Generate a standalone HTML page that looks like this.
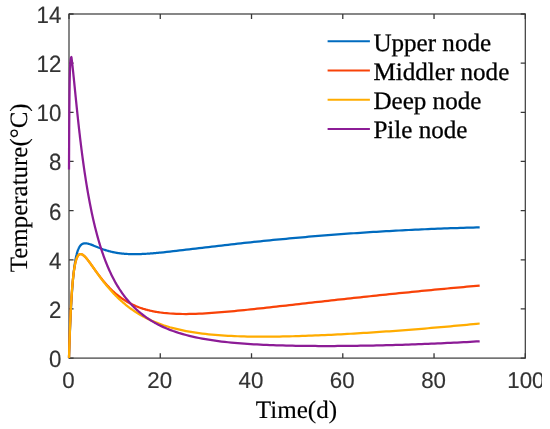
<!DOCTYPE html>
<html><head><meta charset="utf-8"><title>chart</title>
<style>html,body{margin:0;padding:0;background:#fff}svg{display:block}</style></head>
<body>
<svg width="550" height="429" viewBox="0 0 550 429" text-rendering="geometricPrecision">
<rect width="550" height="429" fill="#fff"/>
<rect x="69.0" y="14.0" width="456.30" height="344.10" fill="none" stroke="#383838" stroke-width="1.2"/>
<path d="M69.00,358.1 v-4.9 M69.00,14.0 v4.9 M160.26,358.1 v-4.9 M160.26,14.0 v4.9 M251.52,358.1 v-4.9 M251.52,14.0 v4.9 M342.78,358.1 v-4.9 M342.78,14.0 v4.9 M434.04,358.1 v-4.9 M434.04,14.0 v4.9 M525.30,358.1 v-4.9 M525.30,14.0 v4.9 M69.0,358.10 h4.6 M525.3,358.10 h-4.6 M69.0,308.94 h4.6 M525.3,308.94 h-4.6 M69.0,259.79 h4.6 M525.3,259.79 h-4.6 M69.0,210.63 h4.6 M525.3,210.63 h-4.6 M69.0,161.47 h4.6 M525.3,161.47 h-4.6 M69.0,112.31 h4.6 M525.3,112.31 h-4.6 M69.0,63.16 h4.6 M525.3,63.16 h-4.6 M69.0,14.00 h4.6 M525.3,14.00 h-4.6" stroke="#383838" stroke-width="1.3" fill="none"/>
<path d="M69.00,357.90 L69.09,354.98 L69.18,352.13 L69.28,349.35 L69.37,346.64 L69.46,343.99 L69.55,341.41 L69.64,338.89 L69.73,336.44 L69.83,334.04 L69.92,331.71 L70.01,329.43 L70.10,327.21 L70.19,325.04 L70.29,322.93 L70.38,320.86 L70.47,318.85 L70.56,316.89 L70.65,314.98 L70.75,313.11 L70.84,311.29 L70.93,309.52 L71.02,307.78 L71.11,306.09 L71.20,304.45 L71.30,302.84 L71.39,301.27 L71.48,299.74 L71.57,298.25 L71.66,296.80 L71.76,295.38 L71.85,294.00 L71.94,292.65 L72.03,291.33 L72.12,290.05 L72.22,288.80 L72.31,287.57 L72.40,286.38 L72.49,285.22 L72.58,284.09 L72.67,282.99 L72.77,281.91 L72.86,280.86 L72.95,279.84 L73.04,278.84 L73.13,277.86 L73.23,276.91 L73.32,275.99 L73.41,275.08 L73.50,274.20 L73.59,273.34 L73.69,272.51 L73.78,271.69 L73.87,270.90 L73.96,270.12 L74.05,269.36 L74.14,268.63 L74.24,267.91 L74.33,267.21 L74.42,266.52 L74.51,265.86 L74.60,265.21 L74.70,264.57 L74.79,263.96 L74.88,263.36 L74.97,262.77 L75.06,262.20 L75.16,261.64 L75.25,261.10 L75.34,260.57 L75.43,260.05 L75.52,259.55 L75.61,259.06 L75.71,258.59 L75.80,258.12 L75.89,257.67 L75.98,257.23 L76.07,256.80 L76.17,256.38 L76.26,255.97 L76.35,255.58 L76.44,255.19 L76.53,254.81 L76.63,254.45 L76.72,254.09 L76.81,253.74 L76.90,253.40 L76.99,253.07 L77.08,252.75 L77.18,252.44 L77.27,252.14 L77.36,251.84 L77.45,251.55 L77.54,251.27 L77.64,251.00 L77.73,250.74 L77.82,250.48 L77.91,250.23 L78.00,249.98 L78.10,249.75 L78.19,249.52 L78.28,249.29 L78.37,249.07 L78.46,248.86 L78.55,248.66 L78.65,248.46 L78.74,248.26 L78.83,248.07 L78.92,247.89 L79.01,247.71 L79.11,247.54 L79.20,247.37 L79.29,247.21 L79.38,247.05 L79.47,246.90 L79.57,246.75 L79.66,246.60 L79.75,246.46 L79.84,246.33 L79.93,246.20 L80.02,246.07 L80.12,245.95 L80.21,245.83 L80.30,245.71 L80.39,245.60 L80.48,245.49 L80.58,245.39 L80.67,245.28 L80.76,245.19 L80.85,245.09 L80.94,245.00 L81.04,244.91 L81.13,244.83 L81.22,244.74 L81.31,244.67 L81.40,244.59 L81.49,244.52 L81.59,244.45 L81.68,244.38 L81.77,244.31 L81.86,244.25 L81.95,244.19 L82.05,244.13 L82.14,244.07 L82.23,244.02 L82.32,243.97 L82.41,243.92 L82.51,243.88 L82.60,243.83 L82.69,243.79 L83.34,243.54 L83.99,243.38 L84.64,243.30 L85.30,243.28 L85.95,243.31 L86.60,243.38 L87.25,243.49 L87.90,243.63 L88.56,243.80 L89.21,243.99 L89.86,244.20 L90.51,244.42 L91.16,244.66 L91.81,244.90 L92.47,245.16 L93.12,245.41 L93.77,245.68 L94.42,245.94 L95.07,246.21 L95.73,246.48 L96.38,246.74 L97.03,247.01 L97.68,247.27 L98.33,247.54 L98.99,247.79 L99.64,248.05 L100.29,248.30 L100.94,248.55 L101.59,248.79 L102.24,249.02 L102.90,249.26 L103.55,249.48 L104.20,249.71 L104.85,249.92 L105.50,250.13 L106.16,250.34 L106.81,250.54 L107.46,250.73 L108.11,250.92 L108.76,251.10 L109.42,251.27 L110.07,251.44 L110.72,251.60 L111.37,251.76 L112.02,251.91 L112.67,252.06 L113.33,252.20 L113.98,252.34 L114.63,252.46 L115.28,252.59 L115.93,252.71 L116.59,252.82 L117.24,252.93 L117.89,253.03 L118.54,253.13 L119.19,253.22 L119.84,253.31 L120.50,253.39 L121.15,253.47 L121.80,253.54 L122.45,253.61 L123.10,253.67 L123.76,253.73 L124.41,253.79 L125.06,253.84 L125.71,253.89 L126.36,253.93 L127.02,253.97 L127.67,254.00 L128.32,254.03 L128.97,254.06 L129.62,254.09 L130.27,254.11 L130.93,254.13 L131.58,254.14 L132.23,254.15 L132.88,254.16 L133.53,254.16 L134.19,254.17 L134.84,254.17 L135.49,254.16 L136.14,254.16 L136.79,254.15 L137.44,254.14 L138.10,254.12 L138.75,254.11 L139.40,254.09 L140.05,254.07 L140.70,254.04 L141.36,254.02 L142.01,253.99 L142.66,253.96 L143.31,253.93 L143.96,253.90 L144.62,253.86 L145.27,253.83 L145.92,253.79 L146.57,253.75 L147.22,253.71 L147.87,253.67 L148.53,253.62 L149.18,253.58 L149.83,253.53 L150.48,253.48 L151.13,253.43 L151.79,253.38 L152.44,253.33 L153.09,253.27 L153.74,253.22 L154.39,253.16 L155.05,253.11 L155.70,253.05 L156.35,252.99 L157.00,252.93 L157.65,252.87 L158.30,252.81 L158.96,252.74 L159.61,252.68 L160.26,252.62 L163.49,252.29 L166.71,251.95 L169.94,251.60 L173.17,251.23 L176.39,250.86 L179.62,250.48 L182.84,250.10 L186.07,249.72 L189.30,249.33 L192.52,248.94 L195.75,248.56 L198.98,248.17 L202.20,247.78 L205.43,247.40 L208.66,247.02 L211.88,246.63 L215.11,246.26 L218.33,245.88 L221.56,245.51 L224.79,245.14 L228.01,244.77 L231.24,244.41 L234.47,244.04 L237.69,243.69 L240.92,243.33 L244.15,242.98 L247.37,242.64 L250.60,242.29 L253.82,241.95 L257.05,241.62 L260.28,241.28 L263.50,240.96 L266.73,240.63 L269.96,240.31 L273.18,239.99 L276.41,239.68 L279.64,239.37 L282.86,239.06 L286.09,238.76 L289.31,238.46 L292.54,238.16 L295.77,237.87 L298.99,237.58 L302.22,237.30 L305.45,237.02 L308.67,236.74 L311.90,236.47 L315.13,236.20 L318.35,235.93 L321.58,235.67 L324.80,235.41 L328.03,235.16 L331.26,234.91 L334.48,234.66 L337.71,234.41 L340.94,234.17 L344.16,233.94 L347.39,233.71 L350.62,233.48 L353.84,233.25 L357.07,233.03 L360.29,232.81 L363.52,232.60 L366.75,232.39 L369.97,232.19 L373.20,231.98 L376.43,231.78 L379.65,231.59 L382.88,231.40 L386.11,231.21 L389.33,231.03 L392.56,230.85 L395.78,230.67 L399.01,230.50 L402.24,230.33 L405.46,230.16 L408.69,230.00 L411.92,229.84 L415.14,229.69 L418.37,229.54 L421.60,229.39 L424.82,229.25 L428.05,229.11 L431.27,228.98 L434.50,228.85 L437.73,228.72 L440.95,228.59 L444.18,228.47 L447.41,228.36 L450.63,228.24 L453.86,228.14 L457.09,228.03 L460.31,227.93 L463.54,227.83 L466.76,227.74 L469.99,227.65 L473.22,227.56 L476.44,227.48 L479.67,227.40" fill="none" stroke="#006BBF" stroke-width="2.25" stroke-linejoin="round"/>
<path d="M69.00,357.90 L69.09,354.73 L69.18,351.65 L69.28,348.66 L69.37,345.75 L69.46,342.93 L69.55,340.20 L69.64,337.54 L69.73,334.95 L69.83,332.45 L69.92,330.01 L70.01,327.65 L70.10,325.35 L70.19,323.12 L70.29,320.95 L70.38,318.85 L70.47,316.81 L70.56,314.82 L70.65,312.90 L70.75,311.03 L70.84,309.21 L70.93,307.45 L71.02,305.73 L71.11,304.07 L71.20,302.45 L71.30,300.88 L71.39,299.36 L71.48,297.88 L71.57,296.44 L71.66,295.05 L71.76,293.69 L71.85,292.38 L71.94,291.10 L72.03,289.86 L72.12,288.65 L72.22,287.48 L72.31,286.35 L72.40,285.24 L72.49,284.17 L72.58,283.14 L72.67,282.13 L72.77,281.15 L72.86,280.20 L72.95,279.27 L73.04,278.38 L73.13,277.51 L73.23,276.67 L73.32,275.85 L73.41,275.05 L73.50,274.28 L73.59,273.54 L73.69,272.81 L73.78,272.11 L73.87,271.43 L73.96,270.76 L74.05,270.12 L74.14,269.50 L74.24,268.90 L74.33,268.31 L74.42,267.75 L74.51,267.20 L74.60,266.67 L74.70,266.15 L74.79,265.65 L74.88,265.17 L74.97,264.70 L75.06,264.25 L75.16,263.81 L75.25,263.38 L75.34,262.97 L75.43,262.57 L75.52,262.19 L75.61,261.82 L75.71,261.46 L75.80,261.11 L75.89,260.77 L75.98,260.45 L76.07,260.14 L76.17,259.83 L76.26,259.54 L76.35,259.26 L76.44,258.99 L76.53,258.73 L76.63,258.48 L76.72,258.23 L76.81,258.00 L76.90,257.78 L76.99,257.56 L77.08,257.35 L77.18,257.15 L77.27,256.96 L77.36,256.78 L77.45,256.60 L77.54,256.43 L77.64,256.27 L77.73,256.12 L77.82,255.97 L77.91,255.83 L78.00,255.70 L78.10,255.57 L78.19,255.45 L78.28,255.33 L78.37,255.22 L78.46,255.12 L78.55,255.02 L78.65,254.93 L78.74,254.84 L78.83,254.76 L78.92,254.68 L79.01,254.61 L79.11,254.54 L79.20,254.48 L79.29,254.43 L79.38,254.37 L79.47,254.32 L79.57,254.28 L79.66,254.24 L79.75,254.21 L79.84,254.17 L79.93,254.15 L80.02,254.12 L80.12,254.10 L80.21,254.09 L80.30,254.07 L80.39,254.07 L80.48,254.06 L80.58,254.06 L80.67,254.06 L80.76,254.06 L80.85,254.07 L80.94,254.08 L81.04,254.09 L81.13,254.11 L81.22,254.13 L81.31,254.15 L81.40,254.18 L81.49,254.20 L81.59,254.23 L81.68,254.27 L81.77,254.30 L81.86,254.34 L81.95,254.38 L82.05,254.42 L82.14,254.47 L82.23,254.51 L82.32,254.56 L82.41,254.61 L82.51,254.67 L82.60,254.72 L82.69,254.78 L83.34,255.24 L83.99,255.78 L84.64,256.39 L85.30,257.06 L85.95,257.78 L86.60,258.54 L87.25,259.34 L87.90,260.17 L88.56,261.02 L89.21,261.89 L89.86,262.78 L90.51,263.68 L91.16,264.59 L91.81,265.50 L92.47,266.42 L93.12,267.34 L93.77,268.26 L94.42,269.18 L95.07,270.09 L95.73,271.00 L96.38,271.90 L97.03,272.80 L97.68,273.69 L98.33,274.56 L98.99,275.43 L99.64,276.29 L100.29,277.14 L100.94,277.98 L101.59,278.80 L102.24,279.62 L102.90,280.42 L103.55,281.21 L104.20,281.99 L104.85,282.75 L105.50,283.51 L106.16,284.25 L106.81,284.97 L107.46,285.69 L108.11,286.39 L108.76,287.08 L109.42,287.76 L110.07,288.42 L110.72,289.07 L111.37,289.71 L112.02,290.34 L112.67,290.95 L113.33,291.56 L113.98,292.15 L114.63,292.73 L115.28,293.29 L115.93,293.85 L116.59,294.39 L117.24,294.93 L117.89,295.45 L118.54,295.96 L119.19,296.46 L119.84,296.95 L120.50,297.43 L121.15,297.90 L121.80,298.36 L122.45,298.81 L123.10,299.25 L123.76,299.68 L124.41,300.10 L125.06,300.51 L125.71,300.91 L126.36,301.30 L127.02,301.68 L127.67,302.06 L128.32,302.43 L128.97,302.78 L129.62,303.13 L130.27,303.47 L130.93,303.81 L131.58,304.13 L132.23,304.45 L132.88,304.76 L133.53,305.06 L134.19,305.36 L134.84,305.65 L135.49,305.93 L136.14,306.20 L136.79,306.47 L137.44,306.73 L138.10,306.99 L138.75,307.23 L139.40,307.48 L140.05,307.71 L140.70,307.94 L141.36,308.17 L142.01,308.38 L142.66,308.60 L143.31,308.80 L143.96,309.00 L144.62,309.20 L145.27,309.39 L145.92,309.57 L146.57,309.75 L147.22,309.93 L147.87,310.10 L148.53,310.26 L149.18,310.42 L149.83,310.58 L150.48,310.73 L151.13,310.88 L151.79,311.02 L152.44,311.16 L153.09,311.29 L153.74,311.42 L154.39,311.54 L155.05,311.66 L155.70,311.78 L156.35,311.90 L157.00,312.01 L157.65,312.11 L158.30,312.21 L158.96,312.31 L159.61,312.41 L160.26,312.50 L163.49,312.91 L166.71,313.24 L169.94,313.50 L173.17,313.71 L176.39,313.85 L179.62,313.95 L182.84,314.00 L186.07,314.00 L189.30,313.97 L192.52,313.90 L195.75,313.81 L198.98,313.68 L202.20,313.53 L205.43,313.35 L208.66,313.16 L211.88,312.94 L215.11,312.71 L218.33,312.46 L221.56,312.20 L224.79,311.93 L228.01,311.64 L231.24,311.35 L234.47,311.04 L237.69,310.73 L240.92,310.41 L244.15,310.08 L247.37,309.75 L250.60,309.42 L253.82,309.07 L257.05,308.73 L260.28,308.38 L263.50,308.03 L266.73,307.67 L269.96,307.32 L273.18,306.96 L276.41,306.60 L279.64,306.24 L282.86,305.87 L286.09,305.51 L289.31,305.15 L292.54,304.78 L295.77,304.42 L298.99,304.06 L302.22,303.69 L305.45,303.33 L308.67,302.97 L311.90,302.60 L315.13,302.24 L318.35,301.88 L321.58,301.52 L324.80,301.16 L328.03,300.80 L331.26,300.44 L334.48,300.09 L337.71,299.73 L340.94,299.38 L344.16,299.03 L347.39,298.67 L350.62,298.32 L353.84,297.97 L357.07,297.63 L360.29,297.28 L363.52,296.94 L366.75,296.59 L369.97,296.25 L373.20,295.91 L376.43,295.57 L379.65,295.23 L382.88,294.90 L386.11,294.56 L389.33,294.23 L392.56,293.90 L395.78,293.57 L399.01,293.24 L402.24,292.91 L405.46,292.59 L408.69,292.26 L411.92,291.94 L415.14,291.62 L418.37,291.30 L421.60,290.98 L424.82,290.67 L428.05,290.35 L431.27,290.04 L434.50,289.73 L437.73,289.42 L440.95,289.11 L444.18,288.81 L447.41,288.50 L450.63,288.20 L453.86,287.90 L457.09,287.60 L460.31,287.30 L463.54,287.01 L466.76,286.71 L469.99,286.42 L473.22,286.13 L476.44,285.84 L479.67,285.55" fill="none" stroke="#F84208" stroke-width="2.25" stroke-linejoin="round"/>
<path d="M69.00,357.90 L69.09,354.73 L69.18,351.66 L69.28,348.67 L69.37,345.77 L69.46,342.95 L69.55,340.22 L69.64,337.56 L69.73,334.98 L69.83,332.47 L69.92,330.04 L70.01,327.67 L70.10,325.37 L70.19,323.14 L70.29,320.98 L70.38,318.87 L70.47,316.83 L70.56,314.85 L70.65,312.92 L70.75,311.05 L70.84,309.23 L70.93,307.46 L71.02,305.75 L71.11,304.08 L71.20,302.47 L71.30,300.90 L71.39,299.37 L71.48,297.89 L71.57,296.45 L71.66,295.05 L71.76,293.70 L71.85,292.38 L71.94,291.10 L72.03,289.86 L72.12,288.65 L72.22,287.48 L72.31,286.34 L72.40,285.24 L72.49,284.17 L72.58,283.13 L72.67,282.12 L72.77,281.14 L72.86,280.19 L72.95,279.26 L73.04,278.37 L73.13,277.50 L73.23,276.65 L73.32,275.84 L73.41,275.04 L73.50,274.27 L73.59,273.52 L73.69,272.80 L73.78,272.09 L73.87,271.41 L73.96,270.75 L74.05,270.11 L74.14,269.49 L74.24,268.88 L74.33,268.30 L74.42,267.73 L74.51,267.18 L74.60,266.65 L74.70,266.14 L74.79,265.64 L74.88,265.15 L74.97,264.69 L75.06,264.23 L75.16,263.80 L75.25,263.37 L75.34,262.96 L75.43,262.56 L75.52,262.18 L75.61,261.81 L75.71,261.45 L75.80,261.10 L75.89,260.77 L75.98,260.44 L76.07,260.13 L76.17,259.83 L76.26,259.54 L76.35,259.26 L76.44,258.99 L76.53,258.73 L76.63,258.48 L76.72,258.24 L76.81,258.00 L76.90,257.78 L76.99,257.56 L77.08,257.36 L77.18,257.16 L77.27,256.97 L77.36,256.79 L77.45,256.61 L77.54,256.44 L77.64,256.28 L77.73,256.13 L77.82,255.98 L77.91,255.84 L78.00,255.71 L78.10,255.58 L78.19,255.46 L78.28,255.35 L78.37,255.24 L78.46,255.14 L78.55,255.04 L78.65,254.95 L78.74,254.86 L78.83,254.78 L78.92,254.70 L79.01,254.63 L79.11,254.57 L79.20,254.51 L79.29,254.45 L79.38,254.40 L79.47,254.35 L79.57,254.31 L79.66,254.27 L79.75,254.23 L79.84,254.20 L79.93,254.17 L80.02,254.15 L80.12,254.13 L80.21,254.11 L80.30,254.10 L80.39,254.09 L80.48,254.09 L80.58,254.09 L80.67,254.09 L80.76,254.09 L80.85,254.10 L80.94,254.11 L81.04,254.12 L81.13,254.14 L81.22,254.16 L81.31,254.18 L81.40,254.21 L81.49,254.23 L81.59,254.26 L81.68,254.29 L81.77,254.33 L81.86,254.37 L81.95,254.41 L82.05,254.45 L82.14,254.49 L82.23,254.54 L82.32,254.59 L82.41,254.64 L82.51,254.69 L82.60,254.75 L82.69,254.80 L83.34,255.26 L83.99,255.79 L84.64,256.40 L85.30,257.06 L85.95,257.78 L86.60,258.53 L87.25,259.33 L87.90,260.15 L88.56,261.00 L89.21,261.87 L89.86,262.75 L90.51,263.65 L91.16,264.56 L91.81,265.48 L92.47,266.40 L93.12,267.33 L93.77,268.26 L94.42,269.19 L95.07,270.11 L95.73,271.04 L96.38,271.96 L97.03,272.88 L97.68,273.80 L98.33,274.70 L98.99,275.60 L99.64,276.50 L100.29,277.39 L100.94,278.26 L101.59,279.14 L102.24,280.00 L102.90,280.85 L103.55,281.70 L104.20,282.53 L104.85,283.36 L105.50,284.17 L106.16,284.98 L106.81,285.78 L107.46,286.56 L108.11,287.34 L108.76,288.11 L109.42,288.87 L110.07,289.61 L110.72,290.35 L111.37,291.08 L112.02,291.80 L112.67,292.51 L113.33,293.21 L113.98,293.90 L114.63,294.58 L115.28,295.25 L115.93,295.91 L116.59,296.56 L117.24,297.20 L117.89,297.84 L118.54,298.46 L119.19,299.08 L119.84,299.68 L120.50,300.28 L121.15,300.87 L121.80,301.45 L122.45,302.03 L123.10,302.59 L123.76,303.15 L124.41,303.70 L125.06,304.24 L125.71,304.77 L126.36,305.29 L127.02,305.81 L127.67,306.32 L128.32,306.82 L128.97,307.32 L129.62,307.80 L130.27,308.28 L130.93,308.76 L131.58,309.22 L132.23,309.68 L132.88,310.13 L133.53,310.58 L134.19,311.02 L134.84,311.45 L135.49,311.88 L136.14,312.30 L136.79,312.71 L137.44,313.12 L138.10,313.52 L138.75,313.92 L139.40,314.31 L140.05,314.69 L140.70,315.07 L141.36,315.44 L142.01,315.81 L142.66,316.17 L143.31,316.52 L143.96,316.87 L144.62,317.22 L145.27,317.56 L145.92,317.89 L146.57,318.22 L147.22,318.55 L147.87,318.87 L148.53,319.18 L149.18,319.49 L149.83,319.80 L150.48,320.10 L151.13,320.39 L151.79,320.69 L152.44,320.97 L153.09,321.26 L153.74,321.54 L154.39,321.81 L155.05,322.08 L155.70,322.35 L156.35,322.61 L157.00,322.87 L157.65,323.12 L158.30,323.37 L158.96,323.62 L159.61,323.86 L160.26,324.10 L163.49,325.23 L166.71,326.27 L169.94,327.24 L173.17,328.13 L176.39,328.96 L179.62,329.72 L182.84,330.42 L186.07,331.07 L189.30,331.66 L192.52,332.21 L195.75,332.71 L198.98,333.17 L202.20,333.60 L205.43,333.98 L208.66,334.33 L211.88,334.65 L215.11,334.93 L218.33,335.19 L221.56,335.43 L224.79,335.63 L228.01,335.82 L231.24,335.98 L234.47,336.13 L237.69,336.25 L240.92,336.35 L244.15,336.44 L247.37,336.51 L250.60,336.57 L253.82,336.61 L257.05,336.64 L260.28,336.66 L263.50,336.66 L266.73,336.66 L269.96,336.64 L273.18,336.61 L276.41,336.57 L279.64,336.52 L282.86,336.47 L286.09,336.40 L289.31,336.33 L292.54,336.25 L295.77,336.16 L298.99,336.07 L302.22,335.96 L305.45,335.85 L308.67,335.74 L311.90,335.62 L315.13,335.49 L318.35,335.36 L321.58,335.22 L324.80,335.08 L328.03,334.93 L331.26,334.77 L334.48,334.62 L337.71,334.45 L340.94,334.28 L344.16,334.11 L347.39,333.93 L350.62,333.75 L353.84,333.57 L357.07,333.38 L360.29,333.18 L363.52,332.99 L366.75,332.78 L369.97,332.58 L373.20,332.37 L376.43,332.15 L379.65,331.94 L382.88,331.72 L386.11,331.49 L389.33,331.26 L392.56,331.03 L395.78,330.80 L399.01,330.56 L402.24,330.32 L405.46,330.07 L408.69,329.82 L411.92,329.57 L415.14,329.31 L418.37,329.05 L421.60,328.79 L424.82,328.52 L428.05,328.25 L431.27,327.98 L434.50,327.70 L437.73,327.43 L440.95,327.14 L444.18,326.86 L447.41,326.57 L450.63,326.28 L453.86,325.98 L457.09,325.68 L460.31,325.38 L463.54,325.08 L466.76,324.77 L469.99,324.46 L473.22,324.14 L476.44,323.82 L479.67,323.50" fill="none" stroke="#FFAC00" stroke-width="2.25" stroke-linejoin="round"/>
<path d="M69.00,169.58 L69.09,148.95 L69.18,132.08 L69.28,118.29 L69.37,107.01 L69.46,97.79 L69.55,90.25 L69.64,84.09 L69.73,79.05 L69.83,74.92 L69.92,71.55 L70.01,68.80 L70.10,66.55 L70.19,64.71 L70.29,63.20 L70.38,61.97 L70.47,60.96 L70.56,60.14 L70.65,59.47 L70.75,58.91 L70.84,58.47 L70.93,58.10 L71.02,57.80 L71.11,57.55 L71.20,57.35 L71.30,57.18 L71.39,57.05 L71.48,57.48 L71.57,58.18 L71.66,58.89 L71.76,59.62 L71.85,60.36 L71.94,61.12 L72.03,61.89 L72.12,62.67 L72.22,63.46 L72.31,64.26 L72.40,65.07 L72.49,65.89 L72.58,66.72 L72.67,67.56 L72.77,68.40 L72.86,69.25 L72.95,70.11 L73.04,70.98 L73.13,71.85 L73.23,72.72 L73.32,73.60 L73.41,74.49 L73.50,75.38 L73.59,76.27 L73.69,77.17 L73.78,78.07 L73.87,78.97 L73.96,79.88 L74.05,80.78 L74.14,81.69 L74.24,82.61 L74.33,83.52 L74.42,84.43 L74.51,85.35 L74.60,86.26 L74.70,87.18 L74.79,88.10 L74.88,89.01 L74.97,89.93 L75.06,90.85 L75.16,91.76 L75.25,92.68 L75.34,93.60 L75.43,94.51 L75.52,95.42 L75.61,96.34 L75.71,97.25 L75.80,98.16 L75.89,99.07 L75.98,99.97 L76.07,100.88 L76.17,101.78 L76.26,102.68 L76.35,103.58 L76.44,104.48 L76.53,105.37 L76.63,106.27 L76.72,107.16 L76.81,108.05 L76.90,108.93 L76.99,109.81 L77.08,110.69 L77.18,111.57 L77.27,112.45 L77.36,113.32 L77.45,114.19 L77.54,115.06 L77.64,115.92 L77.73,116.78 L77.82,117.64 L77.91,118.50 L78.00,119.35 L78.10,120.20 L78.19,121.04 L78.28,121.89 L78.37,122.73 L78.46,123.56 L78.55,124.40 L78.65,125.23 L78.74,126.05 L78.83,126.88 L78.92,127.70 L79.01,128.51 L79.11,129.33 L79.20,130.14 L79.29,130.95 L79.38,131.75 L79.47,132.55 L79.57,133.35 L79.66,134.14 L79.75,134.93 L79.84,135.72 L79.93,136.50 L80.02,137.29 L80.12,138.06 L80.21,138.84 L80.30,139.61 L80.39,140.37 L80.48,141.14 L80.58,141.90 L80.67,142.66 L80.76,143.41 L80.85,144.16 L80.94,144.91 L81.04,145.65 L81.13,146.39 L81.22,147.13 L81.31,147.86 L81.40,148.59 L81.49,149.32 L81.59,150.04 L81.68,150.76 L81.77,151.48 L81.86,152.19 L81.95,152.91 L82.05,153.61 L82.14,154.32 L82.23,155.02 L82.32,155.72 L82.41,156.41 L82.51,157.10 L82.60,157.79 L82.69,158.48 L83.34,163.25 L83.99,167.86 L84.64,172.33 L85.30,176.65 L85.95,180.83 L86.60,184.87 L87.25,188.79 L87.90,192.58 L88.56,196.25 L89.21,199.80 L89.86,203.24 L90.51,206.57 L91.16,209.80 L91.81,212.92 L92.47,215.95 L93.12,218.89 L93.77,221.74 L94.42,224.51 L95.07,227.19 L95.73,229.80 L96.38,232.32 L97.03,234.78 L97.68,237.16 L98.33,239.48 L98.99,241.72 L99.64,243.91 L100.29,246.04 L100.94,248.10 L101.59,250.11 L102.24,252.07 L102.90,253.97 L103.55,255.82 L104.20,257.63 L104.85,259.38 L105.50,261.09 L106.16,262.76 L106.81,264.38 L107.46,265.96 L108.11,267.50 L108.76,269.01 L109.42,270.47 L110.07,271.90 L110.72,273.30 L111.37,274.66 L112.02,275.99 L112.67,277.29 L113.33,278.56 L113.98,279.79 L114.63,281.00 L115.28,282.18 L115.93,283.34 L116.59,284.47 L117.24,285.57 L117.89,286.65 L118.54,287.70 L119.19,288.73 L119.84,289.74 L120.50,290.73 L121.15,291.69 L121.80,292.64 L122.45,293.56 L123.10,294.47 L123.76,295.36 L124.41,296.23 L125.06,297.08 L125.71,297.91 L126.36,298.73 L127.02,299.53 L127.67,300.31 L128.32,301.08 L128.97,301.83 L129.62,302.57 L130.27,303.29 L130.93,304.00 L131.58,304.70 L132.23,305.38 L132.88,306.05 L133.53,306.71 L134.19,307.36 L134.84,307.99 L135.49,308.61 L136.14,309.22 L136.79,309.82 L137.44,310.40 L138.10,310.98 L138.75,311.55 L139.40,312.10 L140.05,312.65 L140.70,313.19 L141.36,313.71 L142.01,314.23 L142.66,314.74 L143.31,315.24 L143.96,315.73 L144.62,316.21 L145.27,316.68 L145.92,317.15 L146.57,317.61 L147.22,318.06 L147.87,318.50 L148.53,318.93 L149.18,319.36 L149.83,319.78 L150.48,320.19 L151.13,320.60 L151.79,321.00 L152.44,321.39 L153.09,321.77 L153.74,322.15 L154.39,322.53 L155.05,322.89 L155.70,323.26 L156.35,323.61 L157.00,323.96 L157.65,324.30 L158.30,324.64 L158.96,324.97 L159.61,325.30 L160.26,325.62 L163.49,327.14 L166.71,328.55 L169.94,329.85 L173.17,331.05 L176.39,332.16 L179.62,333.20 L182.84,334.15 L186.07,335.04 L189.30,335.87 L192.52,336.64 L195.75,337.35 L198.98,338.01 L202.20,338.63 L205.43,339.20 L208.66,339.73 L211.88,340.23 L215.11,340.69 L218.33,341.12 L221.56,341.52 L224.79,341.90 L228.01,342.25 L231.24,342.57 L234.47,342.87 L237.69,343.15 L240.92,343.41 L244.15,343.65 L247.37,343.88 L250.60,344.09 L253.82,344.28 L257.05,344.46 L260.28,344.63 L263.50,344.79 L266.73,344.93 L269.96,345.06 L273.18,345.18 L276.41,345.29 L279.64,345.39 L282.86,345.48 L286.09,345.57 L289.31,345.64 L292.54,345.71 L295.77,345.77 L298.99,345.82 L302.22,345.87 L305.45,345.91 L308.67,345.94 L311.90,345.97 L315.13,345.99 L318.35,346.00 L321.58,346.01 L324.80,346.02 L328.03,346.02 L331.26,346.01 L334.48,346.00 L337.71,345.98 L340.94,345.96 L344.16,345.94 L347.39,345.91 L350.62,345.87 L353.84,345.83 L357.07,345.79 L360.29,345.74 L363.52,345.69 L366.75,345.63 L369.97,345.57 L373.20,345.51 L376.43,345.44 L379.65,345.37 L382.88,345.29 L386.11,345.21 L389.33,345.13 L392.56,345.04 L395.78,344.95 L399.01,344.85 L402.24,344.76 L405.46,344.65 L408.69,344.55 L411.92,344.44 L415.14,344.32 L418.37,344.21 L421.60,344.09 L424.82,343.96 L428.05,343.83 L431.27,343.70 L434.50,343.57 L437.73,343.43 L440.95,343.29 L444.18,343.14 L447.41,342.99 L450.63,342.84 L453.86,342.68 L457.09,342.52 L460.31,342.36 L463.54,342.19 L466.76,342.02 L469.99,341.85 L473.22,341.67 L476.44,341.49 L479.67,341.30" fill="none" stroke="#8C1C96" stroke-width="2.25" stroke-linejoin="round"/>
<g font-family="'Liberation Sans', Arial, sans-serif" font-size="22.3" fill="#333" stroke="#333" stroke-width="0.15">
<clipPath id="c"><rect x="0" y="0" width="542" height="429"/></clipPath>
<g><text transform="translate(68.50,388.1) scale(1,1.02)" text-anchor="middle">0</text></g>
<g><text transform="translate(159.76,388.1) scale(1,1.02)" text-anchor="middle">20</text></g>
<g><text transform="translate(251.02,388.1) scale(1,1.02)" text-anchor="middle">40</text></g>
<g><text transform="translate(342.28,388.1) scale(1,1.02)" text-anchor="middle">60</text></g>
<g><text transform="translate(433.54,388.1) scale(1,1.02)" text-anchor="middle">80</text></g>
<g clip-path="url(#c)"><text transform="translate(525.90,388.1) scale(1,1.02)" text-anchor="middle">100</text></g>
<text transform="translate(61.3,367.10) scale(1,1.055)" text-anchor="end">0</text>
<text transform="translate(61.3,317.94) scale(1,1.055)" text-anchor="end">2</text>
<text transform="translate(61.3,268.79) scale(1,1.055)" text-anchor="end">4</text>
<text transform="translate(61.3,219.63) scale(1,1.055)" text-anchor="end">6</text>
<text transform="translate(61.3,170.47) scale(1,1.055)" text-anchor="end">8</text>
<text transform="translate(61.3,121.31) scale(1,1.055)" text-anchor="end">10</text>
<text transform="translate(61.3,72.16) scale(1,1.055)" text-anchor="end">12</text>
<text transform="translate(61.3,23.00) scale(1,1.055)" text-anchor="end">14</text>
</g>
<g font-family="'Liberation Serif', 'Times New Roman', serif" font-size="25.1" fill="#000" stroke="#000" stroke-width="0.3">
<text x="296.4" y="418.3" text-anchor="middle" stroke-width="0.15">Time(d)</text>
<text transform="translate(27.2,187.8) rotate(-90)" text-anchor="middle" font-size="24.95" stroke-width="0.15">Temperature(°C)</text>
<path d="M327.6,41.3 H369.9" stroke="#006BBF" stroke-width="2.1"/>
<text x="373.4" y="50.8">Upper node</text>
<path d="M327.6,70.5 H369.9" stroke="#F84208" stroke-width="2.1"/>
<text x="373.4" y="79.7">Middler node</text>
<path d="M327.6,99.8 H369.9" stroke="#FFAC00" stroke-width="2.1"/>
<text x="373.4" y="108.7">Deep node</text>
<path d="M327.6,129.0 H369.9" stroke="#8C1C96" stroke-width="2.1"/>
<text x="373.4" y="138.0">Pile node</text>
</g>
</svg>
</body></html>
